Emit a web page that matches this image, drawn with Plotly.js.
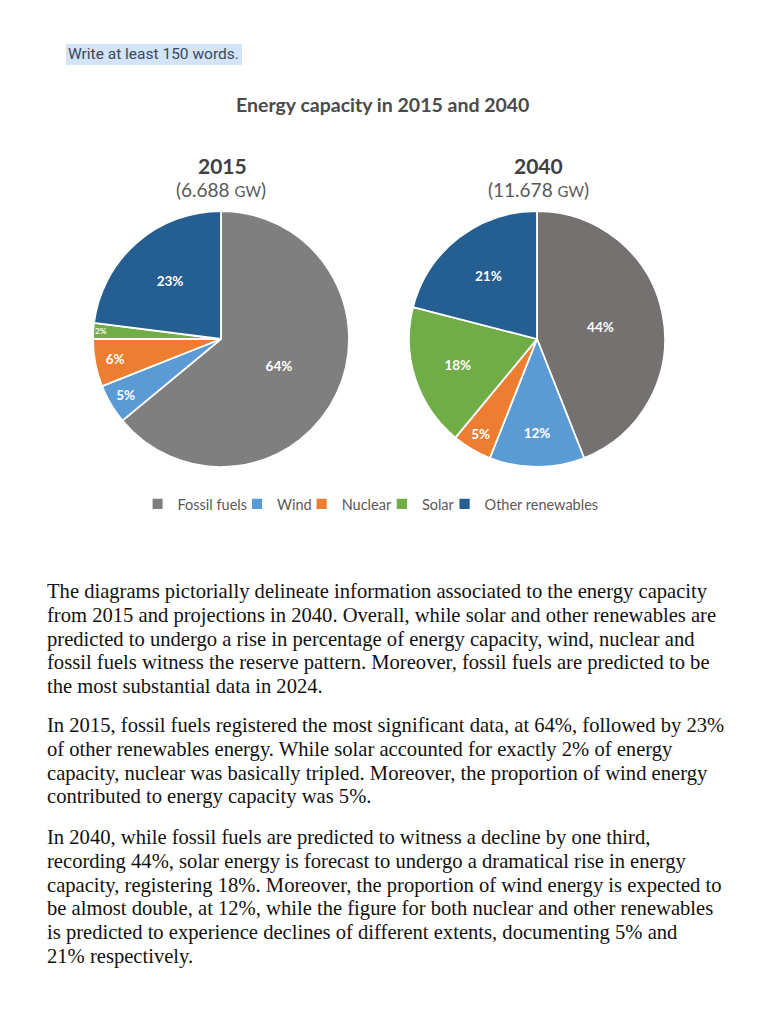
<!DOCTYPE html>
<html>
<head>
<meta charset="utf-8">
<script src="https://cdn.plot.ly/plotly-3.0.1.min.js"></script>
<style>
  html, body { margin: 0; padding: 0; background: #ffffff; }
  #page { position: relative; width: 768px; height: 1024px; overflow: hidden; background: #fff; }
  #chart { position: absolute; left: 0; top: 0; width: 768px; height: 1024px; }
  #prompt { position: absolute; left: 66px; top: 44px; height: 21px; line-height: 21px; padding: 0 3px 0 2px;
            background: #d3e3f8; color: #3c4858; font-family: Roboto, sans-serif; font-size: 15.5px; }
  .para { position: absolute; left: 47px; font-family: 'Liberation Serif', serif; font-size: 20.6px;
          line-height: 23.8px; color: #111111; white-space: nowrap; }
</style>
</head>
<body>
<div id="page">
  <div id="chart"></div>
  <div id="prompt">Write at least 150 words.</div>
  <div class="para" style="top:580px">The diagrams pictorially delineate information associated to the energy capacity<br>from 2015 and projections in 2040. Overall, while solar and other renewables are<br>predicted to undergo a rise in percentage of energy capacity, wind, nuclear and<br>fossil fuels witness the reserve pattern. Moreover, fossil fuels are predicted to be<br>the most substantial data in 2024.</div>
  <div class="para" style="top:714px">In 2015, fossil fuels registered the most significant data, at 64%, followed by 23%<br>of other renewables energy. While solar accounted for exactly 2% of energy<br>capacity, nuclear was basically tripled. Moreover, the proportion of wind energy<br>contributed to energy capacity was 5%.</div>
  <div class="para" style="top:826px">In 2040, while fossil fuels are predicted to witness a decline by one third,<br>recording 44%, solar energy is forecast to undergo a dramatical rise in energy<br>capacity, registering 18%. Moreover, the proportion of wind energy is expected to<br>be almost double, at 12%, while the figure for both nuclear and other renewables<br>is predicted to experience declines of different extents, documenting 5% and<br>21% respectively.</div>
</div>
<script>
const categories = ['Fossil fuels', 'Wind', 'Nuclear', 'Solar', 'Other renewables'];
const values2015 = [64, 5, 6, 2, 23];
const values2040 = [44, 12, 5, 18, 21];
const colors2015 = ['#7f7f7f', '#5b9bd5', '#ed7d31', '#70ad47', '#255e91'];
const colors2040 = ['#767171', '#5b9bd5', '#ed7d31', '#70ad47', '#255e91'];
const chartTitle = 'Energy capacity in 2015 and 2040';
const pieYears = ['2015', '2040'];
const pieTotals = ['6.688', '11.678'];

const W = 768, H = 1024;
const px = (x) => x / W;
const py = (y) => 1 - y / H;

function pieTrace(vals, cols, xc, yc, r) {
  return {
    type: 'pie',
    labels: categories,
    values: vals,
    sort: false,
    direction: 'clockwise',
    rotation: 0,
    marker: { colors: cols, line: { color: '#ffffff', width: 1.8 } },
    texttemplate: '%{value}%',
    textposition: 'inside',
    insidetextorientation: 'horizontal',
    textfont: { family: 'Lato, sans-serif', size: 13.5, color: '#ffffff', weight: 'bold' },
    hoverinfo: 'label+percent',
    domain: { x: [px(xc - r), px(xc + r)], y: [py(yc + r), py(yc - r)] }
  };
}

const data = [
  pieTrace(values2015, colors2015, 221, 339, 128),
  pieTrace(values2040, colors2040, 537, 339, 128)
];

const annotations = [
  { text: '<b>' + chartTitle + '</b>', x: px(382), y: py(104), font: { size: 19.5, color: '#4a4a4a' } },
  { text: '<b>' + pieYears[0] + '</b>', x: px(222), y: py(165), font: { size: 21, color: '#404040' } },
  { text: '(' + pieTotals[0] + ' <span style="font-size:15px">GW</span>)', x: px(221), y: py(189), font: { size: 19, color: '#595959' } },
  { text: '<b>' + pieYears[1] + '</b>', x: px(538), y: py(165), font: { size: 21, color: '#404040' } },
  { text: '(' + pieTotals[1] + ' <span style="font-size:15px">GW</span>)', x: px(538), y: py(189), font: { size: 19, color: '#595959' } }
].map(a => Object.assign({ xref: 'paper', yref: 'paper', xanchor: 'center', yanchor: 'middle', showarrow: false }, a));

const layout = {
  width: W, height: H,
  margin: { l: 0, r: 0, t: 0, b: 0 },
  paper_bgcolor: '#ffffff',
  font: { family: 'Lato, sans-serif', color: '#595959' },
  showlegend: true,
  legend: {
    orientation: 'h', x: px(378), xanchor: 'center', y: py(504), yanchor: 'middle',
    font: { family: 'Lato, sans-serif', size: 14.5, color: '#595959' },
    traceorder: 'normal', indentation: -15, itemclick: false
  },
  annotations: annotations
};

Plotly.newPlot('chart', data, layout, { displayModeBar: false, staticPlot: true });
</script>
</body>
</html>
